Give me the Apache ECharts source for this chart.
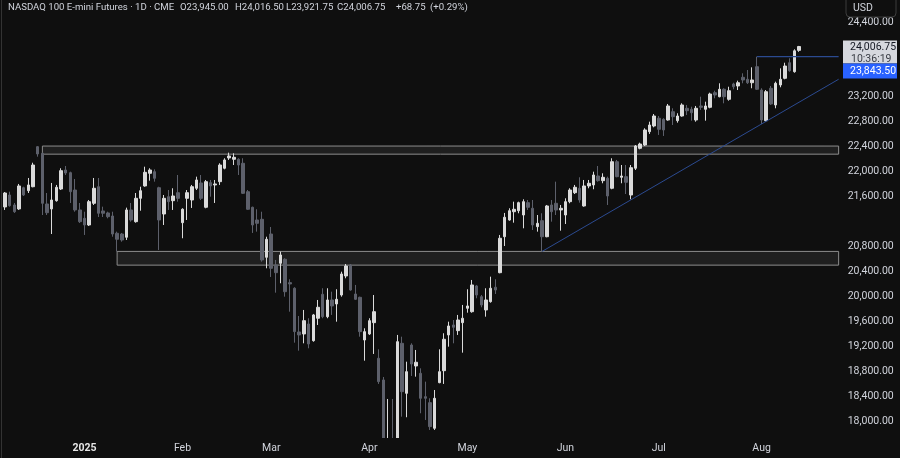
<!DOCTYPE html>
<html><head><meta charset="utf-8">
<script src="https://cdn.jsdelivr.net/npm/echarts@6/dist/echarts.min.js"></script>
<style>html,body{margin:0;padding:0;background:#0f0f0f;overflow:hidden}#c{width:900px;height:458px}</style>
</head><body><div id="c"></div>
<script>
// ---- data ----
const dates = [
'2024-12-06','2024-12-09','2024-12-10','2024-12-11','2024-12-12','2024-12-13','2024-12-16','2024-12-17','2024-12-18','2024-12-19','2024-12-20','2024-12-23','2024-12-24','2024-12-26','2024-12-27','2024-12-30','2024-12-31',
'2025-01-02','2025-01-03','2025-01-06','2025-01-07','2025-01-08','2025-01-09','2025-01-10','2025-01-13','2025-01-14','2025-01-15','2025-01-16','2025-01-17','2025-01-21','2025-01-22','2025-01-23','2025-01-24','2025-01-27','2025-01-28','2025-01-29','2025-01-30','2025-01-31',
'2025-02-03','2025-02-04','2025-02-05','2025-02-06','2025-02-07','2025-02-10','2025-02-11','2025-02-12','2025-02-13','2025-02-14','2025-02-18','2025-02-19','2025-02-20','2025-02-21','2025-02-24','2025-02-25','2025-02-26','2025-02-27','2025-02-28',
'2025-03-03','2025-03-04','2025-03-05','2025-03-06','2025-03-07','2025-03-10','2025-03-11','2025-03-12','2025-03-13','2025-03-14','2025-03-17','2025-03-18','2025-03-19','2025-03-20','2025-03-21','2025-03-24','2025-03-25','2025-03-26','2025-03-27','2025-03-28','2025-03-31',
'2025-04-01','2025-04-02','2025-04-03','2025-04-04','2025-04-07','2025-04-08','2025-04-09','2025-04-10','2025-04-11','2025-04-14','2025-04-15','2025-04-16','2025-04-17','2025-04-21','2025-04-22','2025-04-23','2025-04-24','2025-04-25','2025-04-28','2025-04-29','2025-04-30',
'2025-05-01','2025-05-02','2025-05-05','2025-05-06','2025-05-07','2025-05-08','2025-05-09','2025-05-12','2025-05-13','2025-05-14','2025-05-15','2025-05-16','2025-05-19','2025-05-20','2025-05-21','2025-05-22','2025-05-23','2025-05-27','2025-05-28','2025-05-29','2025-05-30',
'2025-06-02','2025-06-03','2025-06-04','2025-06-05','2025-06-06','2025-06-09','2025-06-10','2025-06-11','2025-06-12','2025-06-13','2025-06-16','2025-06-17','2025-06-18','2025-06-20','2025-06-23','2025-06-24','2025-06-25','2025-06-26','2025-06-27','2025-06-30',
'2025-07-01','2025-07-02','2025-07-03','2025-07-07','2025-07-08','2025-07-09','2025-07-10','2025-07-11','2025-07-14','2025-07-15','2025-07-16','2025-07-17','2025-07-18','2025-07-21','2025-07-22','2025-07-23','2025-07-24','2025-07-25','2025-07-28','2025-07-29','2025-07-30','2025-07-31',
'2025-08-01','2025-08-04','2025-08-05','2025-08-06','2025-08-07','2025-08-08','2025-08-11','2025-08-12','2025-08-13'
];
const open = [
21433,21625,21465,21401,21742,21694,21758,22400,22294,21481,21401,21534,21721,22026,21983,21705,21385,
21251,21144,21492,21758,21369,21337,21288,21011,20999,20947,21385,21197,21572,21770,21973,21999,21742,21320,21598,21534,21662,
21181,21572,21545,21733,21818,21428,21823,21786,21839,22054,22219,22198,22198,22134,21678,21428,21224,21235,20626,
20999,20502,20530,20594,20219,20129,19428,19396,19556,19288,19648,20032,19673,19941,19877,20021,20326,20502,20037,19984,19299,
19396,19577,19006,18658,17200,17650,17250,19246,18444,19219,18882,18765,18390,18294,17883,18615,18807,19380,19540,19449,19577,
19808,19753,20166,19994,19781,19914,20145,20379,20956,21224,21357,21373,21304,21502,21412,21117,21213,20956,21465,21492,21385,
21304,21518,21662,21733,21449,21770,21786,21930,21855,21893,21733,22159,21909,21919,21625,22054,22374,22427,22641,22732,
22856,22839,22828,22961,22817,22892,23016,23000,22828,23053,23000,23032,23266,23202,23321,23160,23406,23374,23513,23481,23426,23683,
23309,22817,23337,23069,23390,23497,23747,23603,23945
];
const high = [
21673,21678,21497,21802,21758,21898,22143,22411,22304,21657,21818,21786,22054,22090,21999,21882,21497,
21357,21545,21898,21898,21438,21357,21357,21037,21016,21422,21497,21657,21758,22079,22054,22037,21758,21625,21705,21733,21946,
21412,21705,21786,21919,21946,21866,21866,21866,22134,22214,22304,22294,22214,22214,21705,21438,21396,21357,20956,
21112,20583,20716,20610,20273,20145,19684,19781,19648,19717,19941,20129,20129,20074,20113,20395,20518,20518,20182,19994,19487,
19648,20021,19150,18706,18353,18353,19380,19352,18951,19246,19139,18845,18631,18364,18497,19150,19407,19593,19620,19701,19861,
20113,20262,20182,20021,20129,20315,20273,20984,21337,21412,21518,21518,21556,21545,21545,21304,21332,21465,21545,21839,21465,
21572,21733,21786,21909,21866,21866,21999,22090,21973,21919,22214,22187,22106,22106,22106,22427,22464,22695,22801,22924,
22892,22856,23085,23016,22936,23096,23069,23041,23053,23202,23122,23266,23298,23417,23337,23362,23426,23459,23577,23630,23673,23843.5,
23337,23309,23374,23443,23657,23747,23818,23962,24016.5
];
const low = [
21385,21438,21337,21385,21609,21657,21749,22240,21304,21304,20999,21518,21705,21946,21497,21357,21176,
20984,21128,21465,21272,21272,21251,20956,20716,20876,20903,21197,21181,21373,21758,21855,21839,20743,21144,21385,21385,21518,
20931,21224,21417,21705,21545,21412,21598,21497,21786,22037,22187,22106,21946,21641,21385,21016,21037,20555,20449,
20310,20058,20209,19994,19753,19256,19128,19246,19166,19272,19540,19648,19648,19701,19593,19994,20289,20090,19941,19352,18967,
19380,19075,18594,17300,16500,17000,17150,18069,18060,18722,18711,18124,18016,17856,17856,18605,18594,19192,19246,19380,19096,
19737,19737,19968,19824,19673,19898,20037,20369,20807,21213,21181,21332,21091,21385,21064,21037,20720,20947,21197,21304,21053,
21160,21492,21641,21502,21438,21733,21717,21839,21813,21465,21717,21909,21813,21641,21556,22026,22358,22411,22604,22711,
22588,22572,22817,22748,22785,22881,22908,22817,22801,22989,22817,23016,23176,23192,23096,23138,23321,23309,23417,23406,23337,23309,
22764,22801,23069,23016,23353,23481,23603,23587,23921.75
];
const close = [
21657,21454,21357,21770,21625,21786,22106,22283,21492,21341,21545,21749,22015,21978,21678,21385,21197,
21144,21518,21733,21332,21332,21277,20999,20915,20903,21385,21224,21572,21694,21989,22026,21893,21224,21572,21518,21609,21572,
21396,21662,21758,21866,21572,21839,21770,21802,22106,22187,22251,22230,22106,21652,21396,21144,21171,20583,20915,
20449,20379,20663,20074,20198,19433,19380,19609,19235,19701,19824,19673,19941,19845,19952,20358,20486,20101,19952,19433,19433,
19609,19753,18631,17500,17500,17150,19272,18470,18791,18914,18942,18364,18364,17909,18364,18791,19311,19524,19503,19620,19648,
19845,20182,20021,19861,19941,20129,20101,20931,21268,21373,21396,21502,21518,21428,21144,21171,20956,21449,21357,21385,21412,
21518,21705,21749,21545,21770,21813,21946,21855,21909,21609,22159,21919,21930,21829,22063,22411,22443,22668,22748,22892,
22679,22668,23053,22881,22892,23069,22977,22945,23016,23032,23053,23245,23229,23321,23202,23298,23362,23426,23470,23426,23470,23321,
22828,23282,23085,23417,23481,23694,23619,23938,24006.75
];
// price-axis tick labels that are visible in the reference
const yTickLabels = [18000,18400,18800,19200,19600,20000,20400,20800,21600,22000,22400,22800,23200,24400];
const monthNames = ['Jan','Feb','Mar','Apr','May','Jun','Jul','Aug','Sep','Oct','Nov','Dec'];
// drawings
const zones = [
  {from:'2024-12-18', top:22410, bottom:22280},
  {from:'2025-01-13', top:20720, bottom:20500}
];
const trendFrom = {date:'2025-05-23', price:20720};
const trendTo   = {date:'2025-08-01', price:22764};
const rayLine   = {date:'2025-07-31', price:23843.5};
const lastPrice = 24006.75, countdown = '10:36:19', rayLabel = '23,843.50';
const header = [
  {t:'NASDAQ 100 E-mini Futures · 1D · CME', x:8},
  {t:'O23,945.00', x:180},
  {t:'H24,016.50', x:235},
  {t:'L23,921.75', x:286},
  {t:'C24,006.75', x:337},
  {t:'+68.75', x:396},
  {t:'(+0.29%)', x:430}
];

// ---- chart ----
const PAD = 8;
const cats = dates.concat(new Array(PAD).fill(''));
const N = cats.length;
const FONT = 'Roboto, "Liberation Sans", sans-serif';
const TXT = '#d1d4dc';
const BG = '#0f0f0f';
const idx = d => dates.indexOf(d);

const i0 = idx(trendFrom.date), i1 = idx(trendTo.date);
const slope = (trendTo.price - trendFrom.price) / (i1 - i0);
const xEnd = N - 0.5;
const GRID_H = 438;

const chart = echarts.init(document.getElementById('c'), null, {renderer:'canvas'});
chart.setOption({
  animation:false,
  backgroundColor:BG,
  grid:{left:2.7, top:0, width:N*4.67, height:GRID_H},
  xAxis:[{
    type:'category', data:cats, boundaryGap:true, z:20,
    axisLine:{show:false}, axisTick:{show:false}, splitLine:{show:false},
    axisLabel:{
      color:TXT, fontFamily:FONT, fontSize:10.5, margin:5,
      interval:(i,v)=> i>0 && v!=='' && cats[i-1]!=='' && v.slice(5,7)!==cats[i-1].slice(5,7),
      formatter:(v)=>{ if(!v) return ''; const m=+v.slice(5,7); return m===1?'{b|'+v.slice(0,4)+'}':monthNames[m-1]; },
      rich:{b:{fontWeight:'bold', color:'#e6e6e6', fontFamily:FONT, fontSize:10.5}}
    }
  },{
    type:'value', min:-0.5, max:xEnd, show:false
  }],
  yAxis:[{
    type:'value', position:'right', min:17727, max:24753, scale:true, z:20,
    axisLine:{show:false}, axisTick:{show:false}, splitLine:{show:false},
    axisLabel:{
      customValues:yTickLabels, color:TXT, fontFamily:FONT, fontSize:10.5, margin:9,
      formatter:v=>v.toLocaleString('en-US',{minimumFractionDigits:2,maximumFractionDigits:2})
    }
  }],
  series:[
    {
      type:'line', xAxisIndex:1, yAxisIndex:0, data:[], silent:true, z:1,
      markArea:{
        silent:true,
        itemStyle:{color:'rgba(255,255,255,0.07)', borderColor:'#8c8c8c', borderWidth:1},
        data: zones.map(z=>[{coord:[idx(z.from), z.top]},{coord:[xEnd, z.bottom]}])
      }
    },
    {
      type:'candlestick', xAxisIndex:0, yAxisIndex:0, barWidth:3, z:3, clip:true,
      data: dates.map((d,i)=>[open[i], close[i], low[i], high[i]]),
      itemStyle:{color:'#dadada', color0:'#5d606b', borderColor:'#dadada', borderColor0:'#5d606b', borderWidth:1}
    },
    {
      type:'line', xAxisIndex:1, yAxisIndex:0, symbol:'none', silent:true, z:4,
      lineStyle:{color:'#2b4a90', width:1},
      data:[[i0, trendFrom.price],[xEnd, trendFrom.price + slope*(xEnd - i0)]]
    },
    {
      type:'line', xAxisIndex:1, yAxisIndex:0, symbol:'none', silent:true, z:4,
      lineStyle:{color:'#2b4a90', width:1.2},
      data:[[idx(rayLine.date), rayLine.price],[xEnd, rayLine.price]]
    }
  ]
});

const yp = chart.convertToPixel({yAxisIndex:0}, lastPrice);
const g = [];
// mask below the plot so clipped candles end at the pane bottom (below axis labels)
g.push({type:'rect', shape:{x:0,y:GRID_H,width:900,height:40}, style:{fill:BG}, z:10});
header.forEach(h=>g.push({type:'text', left:h.x, top:2.5, z:50,
  style:{text:h.t, fill:TXT, font:'9.6px '+FONT}}));
// left pane border
g.push({type:'line', shape:{x1:1.5,y1:0,x2:1.5,y2:458}, style:{stroke:'#333',lineWidth:1}, z:50});
// USD box
g.push({type:'rect', shape:{x:846,y:-4,width:50,height:21,r:4}, style:{fill:BG,stroke:'#3d3d3d',lineWidth:1}, z:60});
g.push({type:'text', x:853, y:8, z:61, style:{text:'USD', fill:TXT, font:'10.5px '+FONT, verticalAlign:'middle'}});
// last price label
g.push({type:'rect', shape:{x:843,y:yp-6,width:54,height:23}, style:{fill:'#d6d8de'}, z:60});
g.push({type:'text', x:850, y:yp+1, z:61, style:{text:lastPrice.toLocaleString('en-US',{minimumFractionDigits:2}), fill:'#131722', font:'10.5px '+FONT, verticalAlign:'middle'}});
g.push({type:'text', x:851, y:yp+12.5, z:61, style:{text:countdown, fill:'#3a3d45', font:'10.5px '+FONT, verticalAlign:'middle'}});
// ray label
g.push({type:'rect', shape:{x:843,y:yp+17,width:54,height:15}, style:{fill:'#2962ff'}, z:60});
g.push({type:'text', x:850, y:yp+24.5, z:61, style:{text:rayLabel, fill:'#ffffff', font:'10.5px '+FONT, verticalAlign:'middle'}});
chart.setOption({graphic:g});
</script>
</body></html>
